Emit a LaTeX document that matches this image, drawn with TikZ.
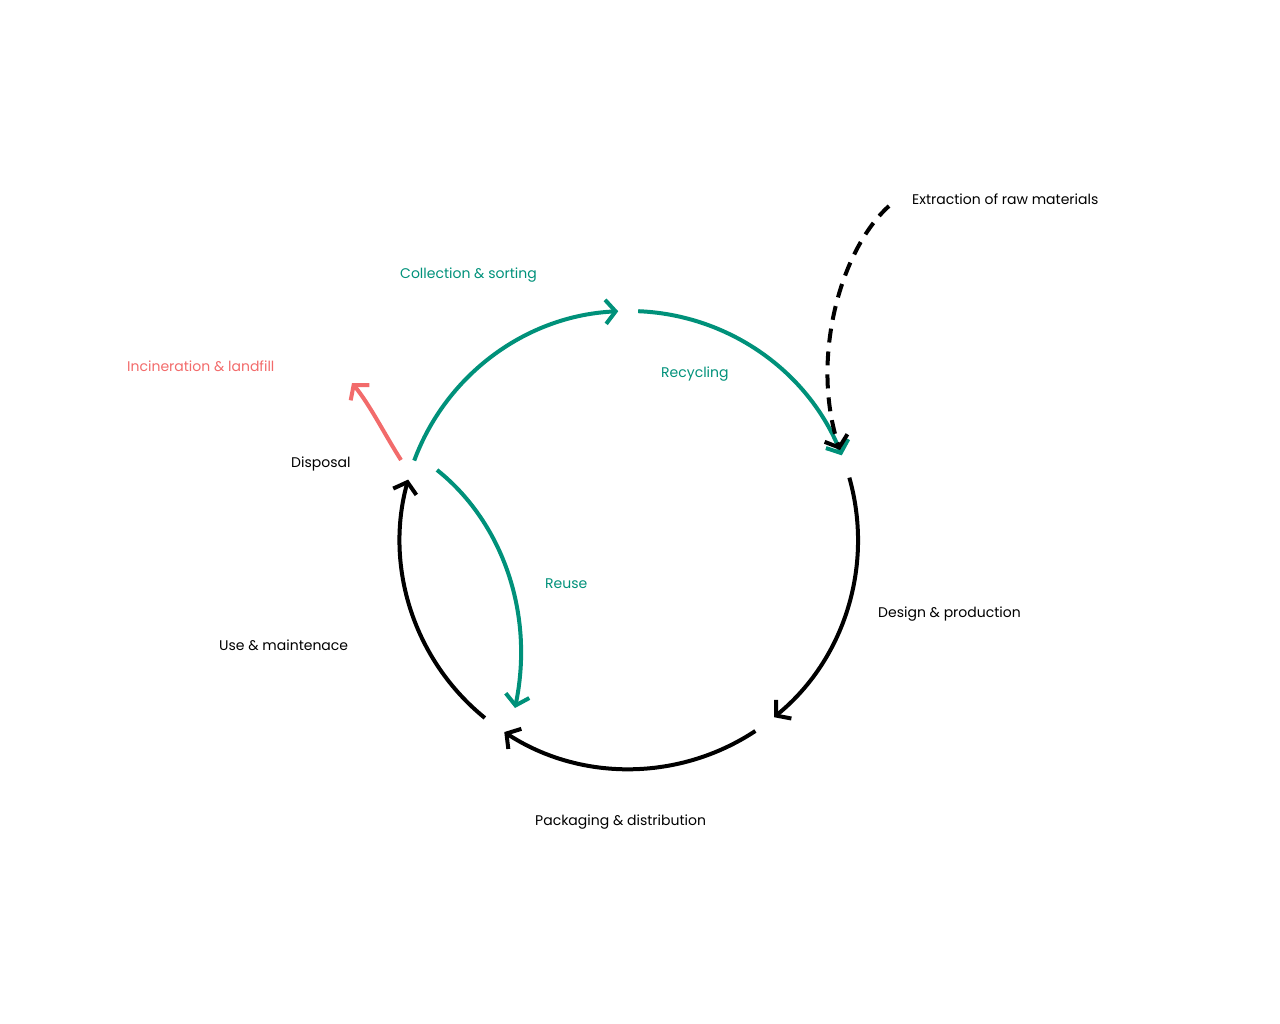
\documentclass[tikz,border=0pt]{standalone}
\usepackage{fontspec}
\setmainfont{Poppins}
\usetikzlibrary{arrows.meta,calc}
\definecolor{teal1}{HTML}{00917A}
\definecolor{red1}{HTML}{F26B6B}
\begin{document}
\begin{tikzpicture}[x=1pt,y=-1pt,
  ln/.style={line width=4pt,-{Straight Barb[length=10pt,width=24pt,line width=4pt]}},
  lab/.style={anchor=west,inner sep=0pt,font=\fontsize{14}{16}\selectfont}]
\useasboundingbox (0,0) rectangle (1280,1024);
\coordinate (c) at (629,540);
\def\r{229}
\draw[ln] ($(c)+(-15.8:\r)$) arc (-15.8:50.7:\r);
\draw[ln] ($(c)+(56.5:\r)$) arc (56.5:123:\r);
\draw[ln] ($(c)+(129:\r)$) arc (129:195.3:\r);
\draw[ln,teal1] ($(c)+(-159.7:\r)$) arc (-159.7:-92.7:\r);
\draw[ln,teal1] ($(c)+(-87.7:\r)$) arc (-87.7:-21.7:\r);
\coordinate (r1) at (437,470); \coordinate (r2) at (515,708);
\draw[ln,teal1] (r1) .. controls (500,520) and (535,610) .. (r2);
\coordinate (i1) at (401,460); \coordinate (i2) at (352,383);
\draw[ln,red1] (i1) .. controls (385,435) and (370,405) .. (i2);
\coordinate (e1) at (889,206); \coordinate (e2) at (840,450);
\draw[line width=4pt,dash pattern=on 14pt off 9pt,-{Straight Barb[length=10pt,width=24pt,line width=4pt]}] (e1) .. controls (840,250) and (810,360) .. (e2);
\node[lab] (t1) at (912,199) {Extraction of raw materials};
\node[lab,teal1] (t2) at (400,275) {Collection \& sorting};
\node[lab,teal1] (t3) at (661,374) {Recycling};
\node[lab,red1] (t4) at (127,366) {Incineration \& landfill};
\node[lab] (t5) at (291,464) {Disposal};
\node[lab,teal1] (t6) at (545,584) {Reuse};
\node[lab] (t7) at (878,614) {Design \& production};
\node[lab] (t8) at (219,645) {Use \& maintenace};
\node[lab] (t9) at (535,822) {Packaging \& distribution};
\end{tikzpicture}
\end{document}
